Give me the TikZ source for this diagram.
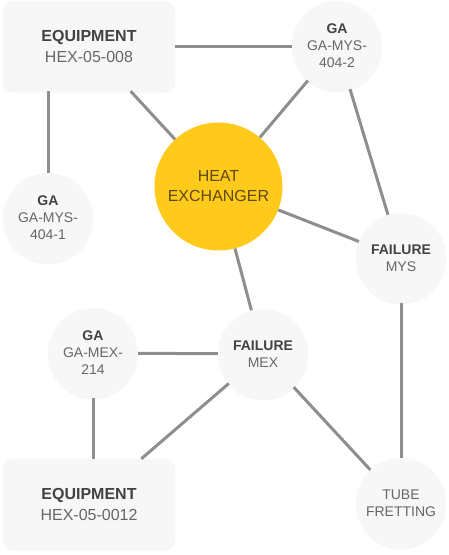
\documentclass[tikz,border=0pt]{standalone}
\usepackage{fontspec}
\setmainfont{Liberation Sans}
\usetikzlibrary{shadows}

\definecolor{nodefill}{HTML}{F7F7F7}
\definecolor{edgegray}{HTML}{8E8E8E}
\definecolor{hexyellow}{HTML}{FFCA1C}
\definecolor{hextext}{HTML}{5C4A0E}
\definecolor{titlegray}{HTML}{424242}
\definecolor{subgray}{HTML}{666666}

\tikzset{
  basenode/.style = {fill = nodefill, draw = none, align = center,
    drop shadow = {opacity = 0.07, shadow xshift = 0pt, shadow yshift = -1.5pt}},
  equipbox/.style = {basenode, shape = rectangle, rounded corners = 10pt,
    minimum width = 172pt, minimum height = 90pt,
    font = \fontsize{16}{21}\selectfont, text = subgray},
  infocircle/.style = {basenode, shape = circle, minimum size = 90pt, inner sep = 0pt,
    font = \fontsize{14}{17}\selectfont, text = subgray},
  hexcircle/.style = {shape = circle, fill = hexyellow, minimum size = 128pt,
    inner sep = 0pt, align = center, font = \fontsize{16}{20}\selectfont, text = hextext},
  link/.style = {draw = edgegray, line width = 3pt},
}

\newcommand{\ttl}[1]{\textcolor{titlegray}{\textbf{#1}}}

\begin{document}
\begin{tikzpicture}[x = 1pt, y = -1pt]
        \useasboundingbox (0, 0) rectangle (449, 555);

        % ------------------------------------------------------------------------
        % Nodes
        \node[equipbox]   at ( 89,  46) (eqa)   {\ttl{EQUIPMENT}\\HEX-05-008};
        \node[infocircle] at (337,  46) (gab)   {\ttl{GA}\\GA-MYS-\\404-2};
        \node[hexcircle]  at (218.5, 186.5) (hex) {HEAT\\EXCHANGER};
        \node[infocircle] at ( 48, 218) (gaa)   {\ttl{GA}\\GA-MYS-\\404-1};
        \node[infocircle] at (401, 258) (mys)   {\ttl{FAILURE}\\MYS};
        \node[infocircle] at ( 93, 353) (gamex) {\ttl{GA}\\GA-MEX-\\214};
        \node[infocircle] at (263, 354) (mex)   {\ttl{FAILURE}\\MEX};
        \node[equipbox]   at ( 89, 504) (eqb)   {\ttl{EQUIPMENT}\\HEX-05-0012};
        \node[infocircle] at (401, 503) (tube)  {TUBE\\FRETTING};

        % ------------------------------------------------------------------------
        % Links
        \draw[link]
          (eqa) edge (gab)
          (eqa) edge (hex)
          (gaa) edge (gaa |- eqa.south)
          (gab) edge (hex)
          (gab) edge (mys)
          (hex) edge (mys)
          (hex) edge (mex)
          (mys) edge (tube)
          (gamex) edge (mex)
          (gamex) edge (gamex |- eqb.north)
          (mex) edge (eqb)
          (mex) edge (tube)
        ;
\end{tikzpicture}
\end{document}
